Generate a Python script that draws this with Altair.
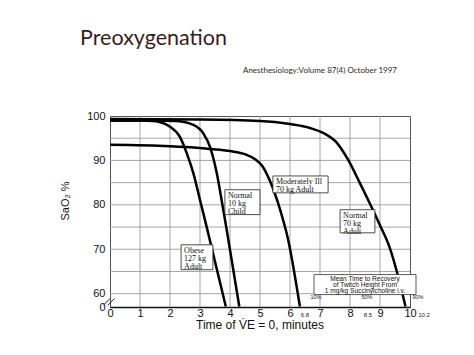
import altair as alt
import pandas as pd

# ---------------- data ----------------
series_names = ["Obese 127 kg Adult", "Normal 10 kg Child",
                "Moderately Ill 70 kg Adult", "Normal 70 kg Adult"]

obese_t = [0, 1.0, 1.44, 2.0, 2.33, 2.56, 2.78, 3.0, 3.22, 3.86]
obese_s = [99.0, 99.0, 98.9, 97.6, 95.3, 91.6, 87.1, 81.1, 75.1, 57.1]

child_t = [0, 1.5, 2.22, 2.78, 3.11, 3.33, 3.56, 3.72, 3.89, 4.31]
child_s = [99.0, 99.0, 98.9, 98.0, 96.1, 93.1, 87.1, 81.1, 74.4, 57.1]

modill_t = [0, 2, 3, 4, 4.5, 4.85, 5.07, 5.33, 5.67, 5.94, 6.33]
modill_s = [93.5, 93.2, 92.8, 92.1, 91.4, 90.2, 88.8, 85.4, 78.9, 72.1, 57.1]

normal_t = [0, 3, 5, 6, 6.67, 7.1, 7.57, 7.94, 8.33, 8.67, 9.0, 9.3, 9.56, 9.85]
normal_s = [99.3, 99.2, 98.9, 98.2, 97.3, 96.2, 93.9, 90.1, 84.9, 80.2, 75.4, 70.8, 65.0, 57.1]

x_ticks = [0, 1, 2, 3, 4, 5, 6, 7, 8, 9, 10]
y_ticks = [57, 60, 70, 80, 90, 100]        # 57 is drawn as the broken-axis "0"
grid_x = [1, 2, 3, 4, 5, 6, 7, 8, 9]
grid_y = [60, 65, 70, 75, 80, 85, 90, 95]

box_labels = ["Obese\n127 kg\nAdult", "Normal\n10 kg\nChild",
              "Moderately Ill\n70 kg Adult", "Normal\n70 kg\nAdult"]
box_x1 = [2.37, 3.83, 5.43, 7.67]
box_x2 = [3.43, 5.00, 7.27, 8.83]
box_y1 = [65.4, 77.8, 82.7, 73.7]
box_y2 = [71.0, 83.4, 86.5, 78.9]

recovery_text = "Mean Time to Recovery\nof Twitch Height From\n1 mg/kg Succinylcholine i.v."
recovery_t = [6.8, 8.5, 10.2]
recovery_pct = ["10%", "50%", "90%"]
recovery_lbl = ["6.8", "8.5", "10.2"]
recovery_box = {"x1": 6.8, "x2": 10.2, "y1": 59.8, "y2": 64.3}

break_x1 = [-0.22, -0.07]
break_x2 = [0.0, 0.15]
break_y1 = [57.4, 57.4]
break_y2 = [58.9, 58.9]

# ---------------- tables ----------------
rows = []
for name, ts, ss in zip(series_names,
                        [obese_t, child_t, modill_t, normal_t],
                        [obese_s, child_s, modill_s, normal_s]):
    for i, (t, s) in enumerate(zip(ts, ss)):
        rows.append({"series": name, "t": t, "sat": s, "order": i})
curves = pd.DataFrame(rows)
boxes = pd.DataFrame({"label": box_labels, "x1": box_x1, "x2": box_x2,
                      "y1": box_y1, "y2": box_y2})
rec = pd.DataFrame({"t": recovery_t, "pct": recovery_pct, "lbl": recovery_lbl})
rec_box = pd.DataFrame([dict(recovery_box, label=recovery_text,
                             xc=(recovery_box["x1"] + recovery_box["x2"]) / 2)])
breaks = pd.DataFrame({"x1": break_x1, "x2": break_x2, "y1": break_y1, "y2": break_y2})

W, H = 300, 191
xs = alt.Scale(domain=[0, 10], nice=False)
ys = alt.Scale(domain=[57, 100], nice=False, zero=False)

xax = alt.Axis(values=x_ticks, grid=False, ticks=False, domain=True, domainColor="#111",
               domainWidth=1.5, labelFont="Liberation Sans", labelFontSize=11,
               labelColor="#111", labelPadding=0, title=None, labelFlush=False)
yax = alt.Axis(values=y_ticks, grid=False, ticks=False, domain=False,
               labelFont="Liberation Sans", labelFontSize=11, labelColor="#111",
               labelPadding=5, title=None, labelFlush=False,
               labelExpr="datum.value == 57 ? '0' : datum.label")


def X(f):
    return alt.X(f, scale=xs, axis=xax, title=None)


def Y(f):
    return alt.Y(f, scale=ys, axis=yax, title=None)


vgrid = alt.Chart(pd.DataFrame({"t": grid_x})).mark_rule(
    color="#9c9c9c", strokeWidth=0.9).encode(x=X("t:Q"))
hgrid = alt.Chart(pd.DataFrame({"s": grid_y})).mark_rule(
    color="#9c9c9c", strokeWidth=0.9).encode(y=Y("s:Q"))

lines = alt.Chart(curves).mark_line(
    color="black", strokeWidth=2.5, interpolate="monotone").encode(
    x=X("t:Q"), y=Y("sat:Q"), detail="series:N", order="order:Q")

rects = alt.Chart(boxes).mark_rect(fill="white", stroke="#222", strokeWidth=0.8).encode(
    x=X("x1:Q"), x2="x2:Q", y=Y("y1:Q"), y2="y2:Q")
rect_text = alt.Chart(boxes).mark_text(
    font="Liberation Serif", fontSize=8, lineBreak="\n", lineHeight=8.2,
    align="left", baseline="top", dx=3, dy=2, color="#111").encode(
    x=X("x1:Q"), y=Y("y2:Q"), text="label:N")

rec_rect = alt.Chart(rec_box).mark_rect(fill="white", stroke="#333", strokeWidth=0.8).encode(
    x=X("x1:Q"), x2="x2:Q", y=Y("y1:Q"), y2="y2:Q")
rec_text = alt.Chart(rec_box).mark_text(
    font="Liberation Sans", fontSize=6.6, lineBreak="\n", lineHeight=5.8,
    align="center", baseline="top", dy=1.5, color="#111").encode(
    x=X("xc:Q"), y=Y("y2:Q"), text="label:N")
rec_pct = alt.Chart(rec).mark_text(
    font="Liberation Sans", fontSize=5.5, align="center", baseline="middle",
    dx=2, dy=3, color="#222").encode(x=X("t:Q"), y=alt.value(H - 13), text="pct:N")

# small extra tick labels squeezed beside the main ones
lbl_dx = [-9, 3, 8]
rec_lbls = [
    alt.Chart(rec.iloc[[i]]).mark_text(
        font="Liberation Sans", fontSize=6, align="center", baseline="middle",
        dx=lbl_dx[i], color="#222").encode(x=X("t:Q"), y=alt.value(H + 8), text="lbl:N")
    for i in range(3)
]

brk = alt.Chart(breaks).mark_rule(color="#222", strokeWidth=1).encode(
    x=X("x1:Q"), x2="x2:Q", y=Y("y1:Q"), y2="y2:Q")

texts = pd.DataFrame({"k": [0]})
title = alt.Chart(texts).mark_text(
    text="Preoxygenation", font="Lato", fontSize=21.5, align="left",
    baseline="alphabetic", color="#3a1c1c").encode(x=alt.value(-30), y=alt.value(-71))
subtitle = alt.Chart(texts).mark_text(
    text="Anesthesiology:Volume 87(4) October 1997", font="Lato", fontSize=8,
    align="left", baseline="alphabetic", color="#3a1c1c").encode(
    x=alt.value(133), y=alt.value(-43))
ytitle = alt.Chart(texts).mark_text(
    text="SaO₂ %", font="Liberation Sans", fontSize=11, angle=270,
    align="center", baseline="middle", color="#111").encode(
    x=alt.value(-44), y=alt.value(85))
xtitle = alt.Chart(texts).mark_text(
    text="Time of V̇E = 0, minutes", font="Liberation Sans", fontSize=12,
    align="center", baseline="alphabetic", color="#111").encode(
    x=alt.value(W / 2), y=alt.value(H + 22))

chart = alt.layer(
    vgrid, hgrid, lines, rects, rect_text, rec_rect, rec_text, rec_pct, *rec_lbls,
    brk, title, subtitle, ytitle, xtitle
).properties(
    width=W, height=H,
    autosize=alt.AutoSizeParams(type="none"),
    padding={"left": 110, "top": 116, "right": 64, "bottom": 48},
    background="white",
).configure_view(stroke="#555", strokeWidth=1)

chart.save("out.html", embed_options={"renderer": "svg", "actions": False})
